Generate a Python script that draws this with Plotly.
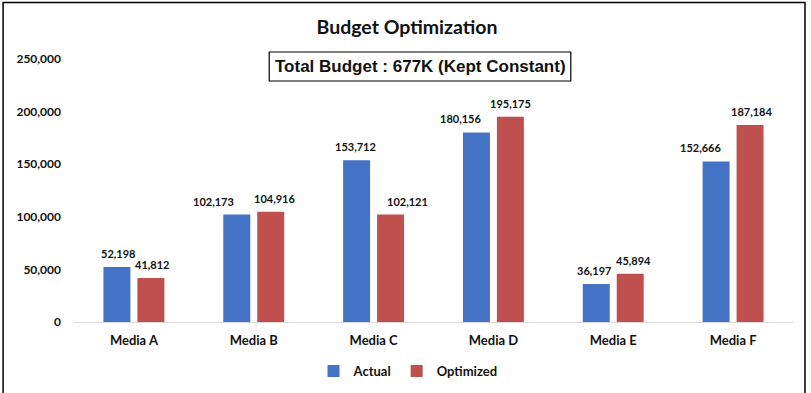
import plotly.graph_objects as go

categories = ["Media A", "Media B", "Media C", "Media D", "Media E", "Media F"]
actual = [52198, 102173, 153712, 180156, 36197, 152666]
optimized = [41812, 104916, 102121, 195175, 45894, 187184]
y_ticks = [0, 50000, 100000, 150000, 200000, 250000]

# horizontal nudges (px) of the value labels relative to their bar, as in the reference
actual_label_nudge = [1, -23, -1, -16, -2, -16]
optimized_label_nudge = [1, 4, 17, 0, 3, 1]

BLUE = "#4472C4"
RED = "#C0504D"
FONT = "Lato"
TXT = "#111111"

W, H = 811, 393
L, R, T, B = 73.5, 17.5, 59, 71
pw, ph = W - L - R, H - T - B

def px(x):
    return (x - L) / pw

def py(y):
    return (H - B - y) / ph

def bold(size):
    return dict(family=FONT, size=size, color=TXT, weight="bold")

fig = go.Figure()
fig.add_trace(go.Bar(name="Actual", x=categories, y=actual, marker_color=BLUE))
fig.add_trace(go.Bar(name="Optimized", x=categories, y=optimized, marker_color=RED))

value_labels = []
for series, shift, nudges in ((actual, -17, actual_label_nudge),
                              (optimized, 17, optimized_label_nudge)):
    for c, v, n in zip(categories, series, nudges):
        value_labels.append(dict(
            x=c, y=v, xref="x", yref="y", text=f"{v:,}", showarrow=False,
            xanchor="center", yanchor="bottom", xshift=shift + n, yshift=5,
            font=bold(11),
        ))

fig.update_layout(
    width=W, height=H,
    margin=dict(l=L, r=R, t=T, b=B, autoexpand=False),
    paper_bgcolor="white", plot_bgcolor="white",
    barmode="group", bargap=0.433, bargroupgap=0.206,
    font=dict(family=FONT, color=TXT),
    title=dict(text="Budget Optimization", xref="container", x=407 / W,
               xanchor="center", y=1 - 27 / H, yanchor="middle",
               font=bold(19.5)),
    showlegend=True,
    legend=dict(orientation="h", x=px(408), xanchor="center", y=py(371), yanchor="middle",
                font=bold(13), itemwidth=30, traceorder="normal"),
    xaxis=dict(showline=True, linecolor="#D9D9D9", linewidth=1, showgrid=False,
               tickfont=bold(13), ticks="", ticklabelstandoff=6),
    yaxis=dict(range=[0, 250000], tickvals=y_ticks, tickformat=",", showgrid=False,
               zeroline=False, showline=False, ticks="",
               tickfont=bold(12), ticklabelstandoff=12),
    shapes=[
        dict(type="rect", xref="paper", yref="paper",
             x0=px(269), x1=px(571), y0=py(81), y1=py(52),
             line=dict(color="black", width=1.2), fillcolor="white", layer="above"),
        dict(type="rect", xref="paper", yref="paper",
             x0=px(2.5), x1=px(805.5), y0=py(420), y1=py(2.5),
             line=dict(color="black", width=1.5), fillcolor="rgba(0,0,0,0)"),
    ],
    annotations=value_labels + [
        dict(text="<b>Total Budget : 677K (Kept Constant)</b>", xref="paper", yref="paper",
             x=px(420), y=py(66.5), xanchor="center", yanchor="middle", showarrow=False,
             font=dict(family="Liberation Sans, Arial", size=17, color=TXT)),
    ],
)
fig.update_traces(marker_line_width=0)

fig.write_html(
    "out.html",
    config={"displayModeBar": False},
    post_script="document.body.style.margin='0';document.body.style.overflow='hidden';",
)
